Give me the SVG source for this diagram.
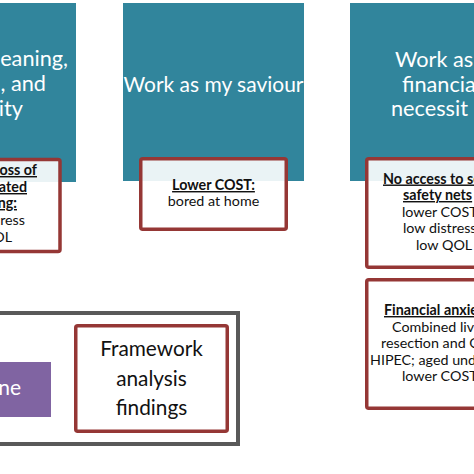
<svg xmlns="http://www.w3.org/2000/svg" width="474" height="474" viewBox="0 0 474 474">
<style>
.teal{fill:#31859c}
.rbox{fill:#ffffff;fill-opacity:0.9;stroke:#953735;stroke-width:3.5}
.tt{font-family:Lato,"Liberation Sans",sans-serif;font-size:21.7px;fill:#ffffff}
.bt{font-family:Lato,"Liberation Sans",sans-serif;font-size:14.3px;fill:#111111}
.b{font-weight:bold;text-decoration:underline}
.ft{font-family:Lato,"Liberation Sans",sans-serif;font-size:20.8px;fill:#111111}
</style>
<rect width="474" height="474" fill="#ffffff"/>
<g id="theme-left">
<rect class="teal" x="-10" y="3" width="86" height="179"/>
<text class="tt" text-anchor="end"><tspan x="68" y="66">eaning,</tspan><tspan x="46" y="91">, and</tspan><tspan x="23" y="116">ity</tspan></text>
</g>
<g id="theme-middle">
<rect class="teal" x="123" y="3" width="181" height="178"/>
<text class="tt" x="213.5" y="92" text-anchor="middle" textLength="180" lengthAdjust="spacingAndGlyphs">Work as my saviour</text>
</g>
<g id="theme-right">
<rect class="teal" x="350" y="3" width="134" height="178"/>
<text class="tt"><tspan x="395" y="67">Work as</tspan><tspan x="402" y="92">financia</tspan><tspan x="391" y="116">necessit</tspan></text>
</g>
<g id="finding-left">
<rect class="rbox" x="-10" y="159.5" width="70" height="92" rx="2"/>
<text class="bt" text-anchor="end"><tspan class="b" x="37" y="175">oss of</tspan><tspan class="b" x="27" y="192">ated</tspan><tspan class="b" x="17" y="208">ng:</tspan><tspan x="25" y="225">ress</tspan><tspan x="12" y="242">OL</tspan></text>
</g>
<g id="finding-middle">
<rect class="rbox" x="140.75" y="158.75" width="145.5" height="70.5" rx="2"/>
<text class="bt" text-anchor="middle"><tspan class="b" x="213.5" y="190">Lower COST:</tspan><tspan x="213.5" y="206">bored at home</tspan></text>
</g>
<g id="finding-right-1">
<rect class="rbox" x="366.75" y="158.75" width="130" height="108.5" rx="2"/>
<text class="bt"><tspan class="b" x="383" y="183.5">No access to so</tspan><tspan class="b" x="403" y="200">safety nets</tspan><tspan x="402" y="216.5">lower COST</tspan><tspan x="403" y="233">low distress</tspan><tspan x="416" y="249.5">low QOL</tspan></text>
</g>
<g id="finding-right-2">
<rect class="rbox" x="366.75" y="279.75" width="130" height="128.5" rx="2"/>
<text class="bt"><tspan class="b" x="384" y="315">Financial anxie</tspan><tspan x="392" y="331.5">Combined liv</tspan><tspan x="381" y="348">resection and C</tspan><tspan x="370" y="364.5">HIPEC; aged und</tspan><tspan x="402" y="381">lower COST</tspan></text>
</g>
<g id="legend">
<rect x="-10" y="313" width="248" height="131" fill="none" stroke="#595959" stroke-width="4"/>
<g id="legend-theme">
<rect x="-10" y="362" width="61" height="55" fill="#8064a2"/>
<text class="tt" x="21" y="395" text-anchor="end" style="font-size:21px">ne</text>
</g>
<g id="legend-findings">
<rect class="rbox" x="75.75" y="325.75" width="151.5" height="105.5" rx="2"/>
<text class="ft" text-anchor="middle"><tspan x="151.5" y="356">Framework</tspan><tspan x="151.5" y="386">analysis</tspan><tspan x="151.5" y="415">findings</tspan></text>
</g>
</g>
<g id="connectors"/>
</svg>
